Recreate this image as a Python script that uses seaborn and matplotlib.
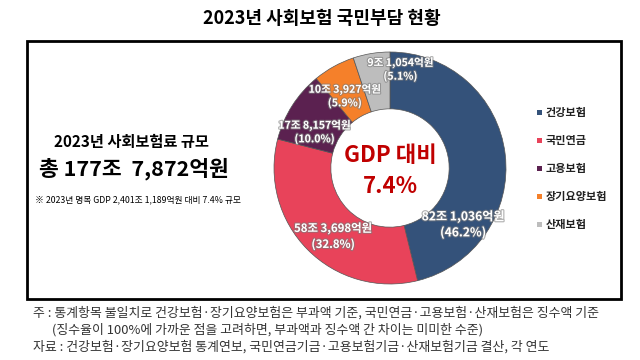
import matplotlib
matplotlib.use("Agg")
import matplotlib.pyplot as plt
import matplotlib.patheffects as pe
import seaborn as sns
from matplotlib.patches import Rectangle

# 2023 사회보험 국민부담 (단위: 억원)
categories = ["건강보험", "국민연금", "고용보험", "장기요양보험", "산재보험"]
amounts = [821036, 583698, 178157, 103927, 91054]
amount_labels = ["82조 1,036억원", "58조 3,698억원", "17조 8,157억원",
                 "10조 3,927억원", "9조 1,054억원"]
shares = [46.2, 32.8, 10.0, 5.9, 5.1]
colors = ["#34527A", "#E8435A", "#5B2150", "#F5802A", "#BDBDBD"]

# label anchor points in the donut (data coords, radius 1) and label sizes
label_pos = [(0.63, -0.49), (-0.49, -0.59), (-0.65, 0.31), (-0.39, 0.62), (0.09, 0.85)]
label_size = [8.7, 8.2, 7.6, 7.6, 7.6]

sns.set_theme(style="white")
plt.rcParams["font.family"] = ["Noto Sans CJK KR", "DejaVu Sans"]

W, H = 640, 360
fig = plt.figure(figsize=(6.4, 3.6), dpi=100)

def fx(x):
    return x / W

def fy(y):
    return 1 - y / H

# title
fig.text(fx(322), fy(18), "2023년 사회보험 국민부담 현황", ha="center", va="center",
         fontsize=13, fontweight="bold", color="black")

# frame
fig.patches.append(Rectangle((fx(27), fy(299)), fx(594), 258 / H, transform=fig.transFigure,
                             fill=False, edgecolor="black", linewidth=2, zorder=0))

# donut
R = 116
ax = fig.add_axes([fx(390 - R), fy(168 + R), fx(2 * R), 2 * R / H])
pal = sns.color_palette(colors)
wedges, _ = ax.pie(amounts, colors=pal, startangle=90, counterclock=False, radius=1,
                   wedgeprops=dict(width=0.49, edgecolor="#555555", linewidth=0.5))
ax.set_xlim(-1, 1)
ax.set_ylim(-1, 1)
ax.set_aspect("equal")
ax.axis("off")

shadow = [pe.withStroke(linewidth=1.6, foreground="#7a7a7a", alpha=0.6)]
for (x, y), amt, sh, fs in zip(label_pos, amount_labels, shares, label_size):
    ax.text(x, y, f"{amt}\n({sh:.1f}%)", ha="center", va="center", color="white",
            fontsize=fs, fontweight="bold", linespacing=1.3, path_effects=shadow)

ax.text(0, 0.11, "GDP 대비", ha="center", va="center", color="#C00000",
        fontsize=16, fontweight="bold")
ax.text(0, -0.16, "7.4%", ha="center", va="center", color="#C00000",
        fontsize=16, fontweight="bold")

# legend
leg = fig.legend(wedges, categories, loc="upper left", bbox_to_anchor=(fx(533), fy(102)),
                 frameon=False, fontsize=8, handlelength=0.45, handleheight=0.45,
                 handletextpad=0.3, labelspacing=1.35, borderaxespad=0)
for t in leg.get_texts():
    t.set_fontweight("bold")
    t.set_color("#222222")
for h in leg.legend_handles:
    h.set_edgecolor("none")

# left summary
fig.text(fx(131), fy(142), "2023년 사회보험료 규모", ha="center", va="center",
         fontsize=11, fontweight="bold", color="black")
fig.text(fx(134), fy(169), "총 177조  7,872억원", ha="center", va="center",
         fontsize=15.5, fontweight="bold", color="black")
fig.text(fx(138), fy(200), "※ 2023년 명목 GDP 2,401조 1,189억원 대비 7.4% 규모", ha="center",
         va="center", fontsize=6.3, color="black")

# notes
note_kw = dict(ha="left", va="center", fontsize=9.3, color="#333333")
fig.text(fx(33), fy(313), "주 : 통계항목 불일치로 건강보험·장기요양보험은 부과액 기준, 국민연금·고용보험·산재보험은 징수액 기준",
         **note_kw)
fig.text(fx(52), fy(330), "(징수율이 100%에 가까운 점을 고려하면, 부과액과 징수액 간 차이는 미미한 수준)",
         **note_kw)
fig.text(fx(33), fy(347), "자료 : 건강보험·장기요양보험 통계연보, 국민연금기금·고용보험기금·산재보험기금 결산, 각 연도",
         **note_kw)

fig.savefig("out.png", dpi=100, facecolor="white")
